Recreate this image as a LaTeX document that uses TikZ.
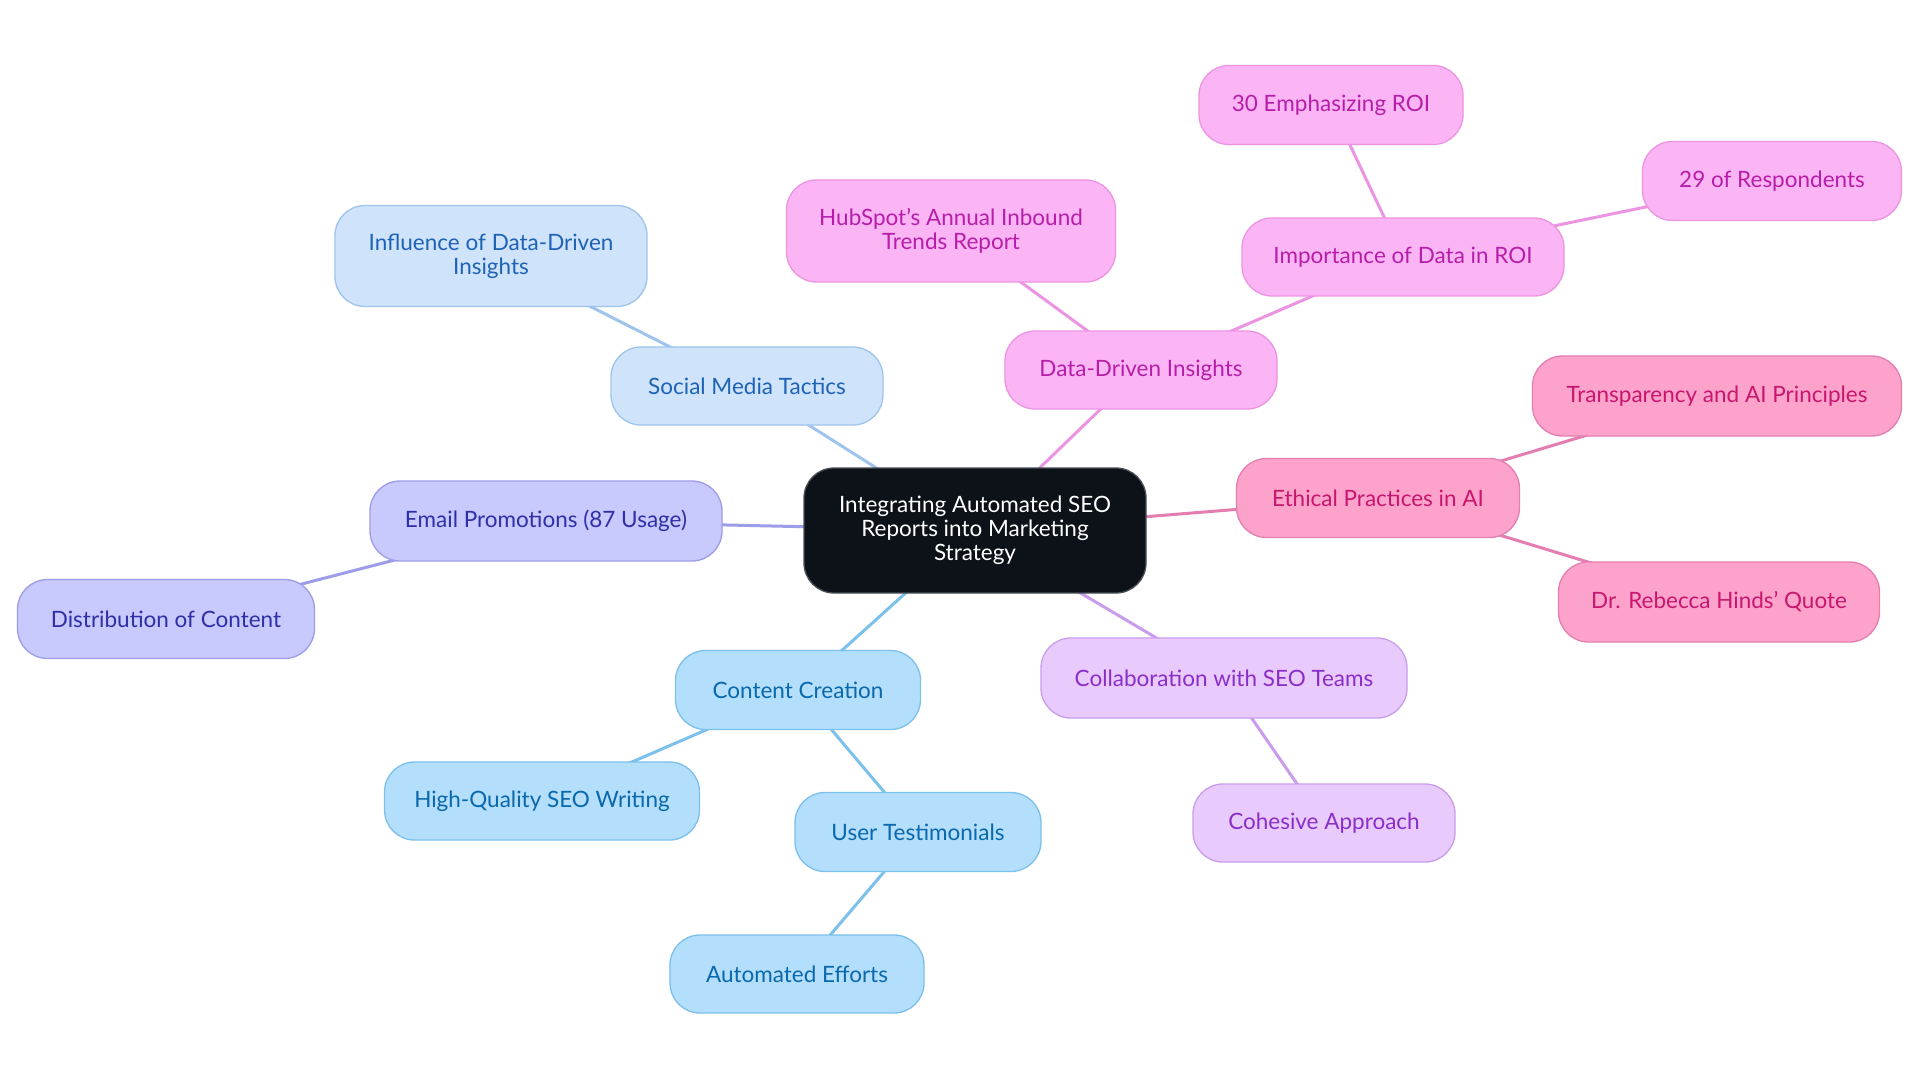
\documentclass[tikz,border=0pt]{standalone}
\usepackage{fontspec}
\setmainfont{Lato}
\pgfdeclarelayer{paper}
\pgfdeclarelayer{bg}
\pgfsetlayers{paper,bg,main}
\definecolor{cDark}{HTML}{0C1218}
\definecolor{cDarkB}{HTML}{4A5058}
% social (light blue)
\definecolor{sFill}{HTML}{CFE3FB}\definecolor{sLine}{HTML}{9EC4EE}\definecolor{sText}{HTML}{1E63B5}
% email (periwinkle)
\definecolor{eFill}{HTML}{C8C9FC}\definecolor{eLine}{HTML}{9C9CE8}\definecolor{eText}{HTML}{2F2FA8}
% content (sky)
\definecolor{kFill}{HTML}{B3DEFC}\definecolor{kLine}{HTML}{7CC0EC}\definecolor{kText}{HTML}{0A68AC}
% data (magenta)
\definecolor{dFill}{HTML}{FCB5F4}\definecolor{dLine}{HTML}{EC94E2}\definecolor{dText}{HTML}{B61EAA}
% ethical (hot pink)
\definecolor{pFill}{HTML}{FDA3CB}\definecolor{pLine}{HTML}{E47EB0}\definecolor{pText}{HTML}{C8166E}
% collab (lavender)
\definecolor{lFill}{HTML}{E8CAFC}\definecolor{lLine}{HTML}{C99CEC}\definecolor{lText}{HTML}{8A2EC8}
\tikzset{
  box/.style={rounded corners=30pt, line width=1.3pt, align=center, inner sep=0pt,
    font=\fontsize{22.5}{24}\selectfont},
  root/.style={box, fill=cDark, draw=cDarkB, text=white},
  sbox/.style={box, fill=sFill, draw=sLine, text=sText},
  ebox/.style={box, fill=eFill, draw=eLine, text=eText},
  kbox/.style={box, fill=kFill, draw=kLine, text=kText},
  dbox/.style={box, fill=dFill, draw=dLine, text=dText},
  pbox/.style={box, fill=pFill, draw=pLine, text=pText},
  lbox/.style={box, fill=lFill, draw=lLine, text=lText},
  link/.style={line width=3pt}
}
\begin{document}
\begin{tikzpicture}[x=1pt,y=-1pt]
\begin{pgfonlayer}{paper}
\fill[white] (0,0) rectangle (1920,1083);
\end{pgfonlayer}
\useasboundingbox (0,0) rectangle (1920,1083);

\node[root, minimum width=342pt, minimum height=125pt] (c) at (975,530.5)
  {Integrating Automated SEO\\Reports into Marketing\\Strategy};

\node[sbox, minimum width=272pt, minimum height=78pt] (soc) at (747,386) {Social Media Tactics};
\node[sbox, minimum width=312pt, minimum height=101pt] (inf) at (491,256) {Influence of Data-Driven\\Insights};

\node[ebox, minimum width=352pt, minimum height=80pt] (em) at (546,521) {Email Promotions (87 Usage)};
\node[ebox, minimum width=297pt, minimum height=79pt] (dist) at (166,619) {Distribution of Content};

\node[kbox, minimum width=245pt, minimum height=79pt] (cc) at (798,690) {Content Creation};
\node[kbox, minimum width=315pt, minimum height=78pt] (hq) at (542,801) {High-Quality SEO Writing};
\node[kbox, minimum width=246pt, minimum height=79pt] (ut) at (918,832) {User Testimonials};
\node[kbox, minimum width=254pt, minimum height=78pt] (ae) at (797,974) {Automated Efforts};

\node[dbox, minimum width=272pt, minimum height=78pt] (ddi) at (1141,370) {Data-Driven Insights};
\node[dbox, minimum width=329pt, minimum height=102pt] (hub) at (951,231) {HubSpot's Annual Inbound\\Trends Report};
\node[dbox, minimum width=322pt, minimum height=78pt] (imp) at (1403,257) {Importance of Data in ROI};
\node[dbox, minimum width=264pt, minimum height=79pt] (r30) at (1331,105) {30 Emphasizing ROI};
\node[dbox, minimum width=259pt, minimum height=79pt] (r29) at (1772,181) {29 of Respondents};

\node[pbox, minimum width=283pt, minimum height=79pt] (eth) at (1378,498) {Ethical Practices in AI};
\node[pbox, minimum width=369pt, minimum height=80pt] (tr) at (1717,396) {Transparency and AI Principles};
\node[pbox, minimum width=321pt, minimum height=80pt] (rh) at (1719,602) {Dr. Rebecca Hinds' Quote};

\node[lbox, minimum width=366pt, minimum height=80pt] (col) at (1224,678) {Collaboration with SEO Teams};
\node[lbox, minimum width=262pt, minimum height=78pt] (coh) at (1324,823) {Cohesive Approach};

\begin{pgfonlayer}{bg}
\draw[link, sLine] (c.center) -- (soc.center);
\draw[link, sLine] (soc.center) -- (inf.center);
\draw[link, eLine] (c.center) -- (em.center);
\draw[link, eLine] (em.center) -- (dist.center);
\draw[link, kLine] (c.center) -- (cc.center);
\draw[link, kLine] (cc.center) -- (hq.center);
\draw[link, kLine] (cc.center) -- (ut.center);
\draw[link, kLine] (ut.center) -- (ae.center);
\draw[link, dLine] (c.center) -- (ddi.center);
\draw[link, dLine] (ddi.center) -- (hub.center);
\draw[link, dLine] (ddi.center) -- (imp.center);
\draw[link, dLine] (imp.center) -- (r30.center);
\draw[link, dLine] (imp.center) -- (r29.center);
\draw[link, pLine] (c.center) -- (eth.center);
\draw[link, pLine] (eth.center) -- (tr.center);
\draw[link, pLine] (eth.center) -- (rh.center);
\draw[link, lLine] (c.center) -- (col.center);
\draw[link, lLine] (col.center) -- (coh.center);
\end{pgfonlayer}
\end{tikzpicture}
\end{document}
